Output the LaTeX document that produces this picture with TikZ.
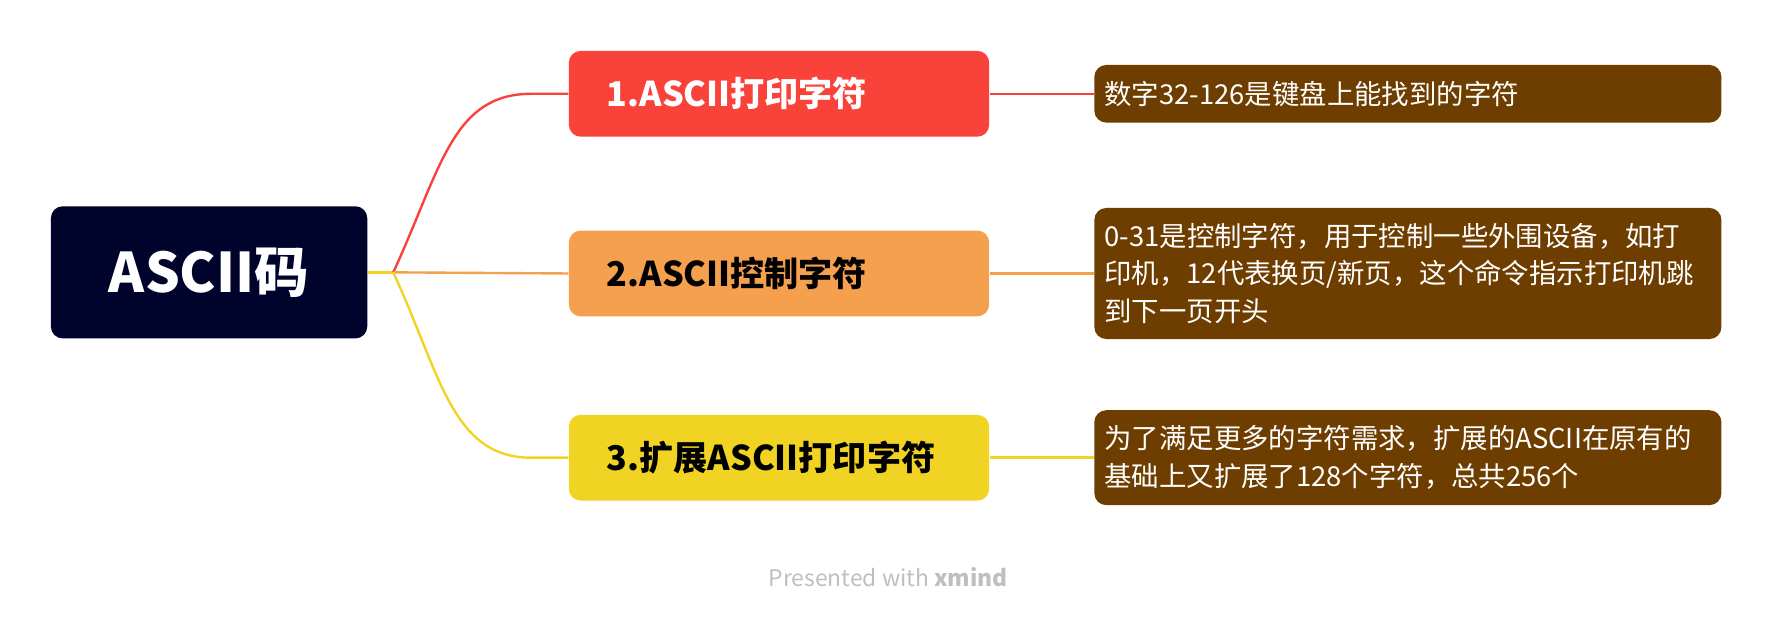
\documentclass[tikz,border=0pt]{standalone}
\usepackage{fontspec}
\setmainfont{Noto Sans CJK SC}
\XeTeXlinebreaklocale "zh"
\XeTeXlinebreakskip=0pt plus 1pt
\usetikzlibrary{positioning}
\definecolor{rootc}{HTML}{00032B}
\definecolor{redc}{HTML}{F9423A}
\definecolor{orangec}{HTML}{F5A04F}
\definecolor{yellowc}{HTML}{F1D423}
\definecolor{brownc}{HTML}{6E3D00}
\tikzset{
  topic/.style={rounded corners=6pt, minimum width=7.44cm, minimum height=1.52cm, inner xsep=0.64cm, text width=6.1cm, align=left, font=\bfseries\fontsize{17.2}{20}\selectfont},
  leaf/.style={rounded corners=6pt, fill=brownc, text=white, text width=10.74cm, align=left, minimum width=11.1cm, inner xsep=0.18cm, font=\fontsize{13.8}{19}\selectfont},
  link/.style={line width=1.2pt}
}
\begin{document}
\begin{tikzpicture}[x=0.02cm,y=-0.02cm]
  \useasboundingbox (0,0) rectangle (1568,553);
  \node[fill=rootc, text=white, rounded corners=6pt, minimum width=5.6cm, minimum height=2.34cm, font=\bfseries\fontsize{27.5}{30}\selectfont] (root) at (185,241) {ASCII码};
  \coordinate (hub) at (348,241);
  % topics
  \node[topic, fill=redc, text=white, anchor=west] (t1) at (503,83) {1.ASCII打印字符};
  \node[topic, fill=orangec, text=black, anchor=west] (t2) at (503,242) {2.ASCII控制字符};
  \node[topic, fill=yellowc, text=black, anchor=west] (t3) at (503,405) {3.扩展ASCII打印字符};
  % details
  \node[leaf, minimum height=1.02cm, anchor=west] (d1) at (968,83) {数字32-126是键盘上能找到的字符};
  \node[leaf, minimum height=2.32cm, anchor=west] (d2) at (968,242) {0-31是控制字符，用于控制一些外围设备，如打\\印机，12代表换页/新页，这个命令指示打印机跳\\到下一页开头};
  \node[leaf, minimum height=1.68cm, anchor=west] (d3) at (968,405) {为了满足更多的字符需求，扩展的ASCII在原有的\\基础上又扩展了128个字符，总共256个};
  % links
  \draw[link, yellowc] (root.east) -- (hub);
  \draw[link, redc] (hub) .. controls (390,150) and (400,83) .. (470,83) -- (t1.west);
  \draw[link, orangec] (hub) -- (t2.west);
  \draw[link, yellowc] (hub) .. controls (390,332) and (400,405) .. (470,405) -- (t3.west);
  \draw[link, redc] (t1.east) -- (d1.west);
  \draw[link, orangec] (t2.east) -- (d2.west);
  \draw[link, yellowc] (t3.east) -- (d3.west);
  \node[text=black!25, font=\fontsize{11.5}{13}\selectfont] (credit) at (786,511) {Presented with \textbf{xmind}};
\end{tikzpicture}
\end{document}
